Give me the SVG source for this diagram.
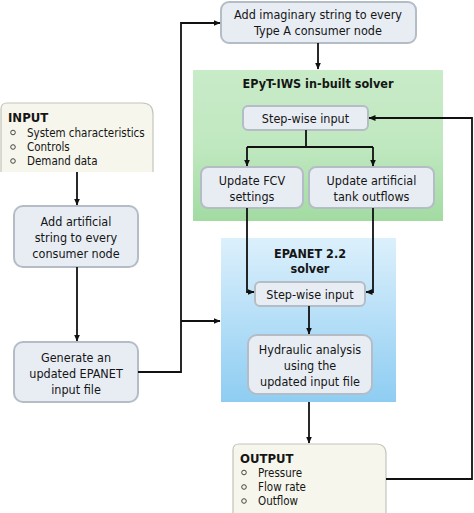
<svg xmlns="http://www.w3.org/2000/svg" width="474" height="513" viewBox="0 0 474 513">
<defs>
<marker id="ah" markerWidth="7" markerHeight="6" refX="6.5" refY="3" orient="auto" markerUnits="userSpaceOnUse">
<path d="M0,0 L7,3 L0,6 Z" fill="#111"/>
</marker>
<linearGradient id="gGreen" x1="0" y1="0" x2="0" y2="1">
<stop offset="0" stop-color="#c8ebc8"/>
<stop offset="0.5" stop-color="#c0e8c0"/>
<stop offset="1" stop-color="#a2dba2"/>
</linearGradient>
<linearGradient id="gBlue" x1="0" y1="0" x2="0" y2="1">
<stop offset="0" stop-color="#dcf0fc"/>
<stop offset="1" stop-color="#8ecdf2"/>
</linearGradient>
</defs>
<style>
text{font-family:"DejaVu Sans Condensed","DejaVu Sans",sans-serif;fill:#151515}
.t{font-size:12.5px;text-anchor:middle}
.b{font-size:11.5px}
.h{font-weight:bold;font-size:13px}
.hc{font-weight:bold;font-size:12.5px;text-anchor:middle}
.box{fill:#e8edf4;stroke:#b4bcc6;stroke-width:2}
.io{fill:#f6f6ec;stroke:#c4c4bc;stroke-width:1.2}
.dot{fill:none;stroke:#333;stroke-width:0.9}
.c{fill:none;stroke:#111;stroke-width:1.8}
</style>
<rect width="474" height="513" fill="#ffffff"/>

<g id="input">
<path class="io" d="M1,172 V109 Q1,103 7,103 H142 Q153,103 153,114 V172"/>
<text class="h" x="8" y="122">INPUT</text>
<circle class="dot" cx="13" cy="132.5" r="2.3"/><text class="b" x="27" y="137">System characteristics</text>
<circle class="dot" cx="13" cy="147" r="2.3"/><text class="b" x="27" y="151">Controls</text>
<circle class="dot" cx="13" cy="161" r="2.3"/><text class="b" x="27" y="165">Demand data</text>
</g>

<g id="add-artificial">
<rect class="box" x="14" y="206" width="124" height="61" rx="9"/>
<text class="t" x="76" y="226">Add artificial</text>
<text class="t" x="76" y="242">string to every</text>
<text class="t" x="76" y="258">consumer node</text>
</g>

<g id="generate">
<rect class="box" x="14" y="342" width="124" height="60" rx="9"/>
<text class="t" x="76" y="362">Generate an</text>
<text class="t" x="76" y="378">updated EPANET</text>
<text class="t" x="76" y="394">input file</text>
</g>

<g id="add-imaginary">
<rect class="box" x="221" y="2" width="195" height="41" rx="8"/>
<text class="t" x="318" y="19">Add imaginary string to every</text>
<text class="t" x="318" y="35">Type A consumer node</text>
</g>

<g id="epyt-solver">
<rect x="193" y="70" width="250" height="151" fill="url(#gGreen)"/>
<text class="hc" x="318" y="88">EPyT-IWS in-built solver</text>
</g>

<g id="stepwise-1">
<rect class="box" x="243" y="106" width="125" height="24" rx="5"/>
<text class="t" x="305.5" y="123">Step-wise input</text>
</g>

<g id="update-fcv">
<rect class="box" x="201" y="167" width="102" height="41" rx="7"/>
<text class="t" x="252" y="185">Update FCV</text>
<text class="t" x="252" y="201">settings</text>
</g>

<g id="update-tank">
<rect class="box" x="309" y="167" width="125" height="41" rx="7"/>
<text class="t" x="371.5" y="185">Update artificial</text>
<text class="t" x="371.5" y="201">tank outflows</text>
</g>

<g id="epanet-solver">
<rect x="221" y="238" width="175" height="164" fill="url(#gBlue)"/>
<text class="hc" x="310" y="258">EPANET 2.2</text>
<text class="hc" x="310" y="273">solver</text>
</g>

<g id="stepwise-2">
<rect class="box" x="255" y="282" width="110" height="24" rx="5"/>
<text class="t" x="310" y="299">Step-wise input</text>
</g>

<g id="hydraulic">
<rect class="box" x="248" y="335" width="124" height="59" rx="9"/>
<text class="t" x="310" y="354">Hydraulic analysis</text>
<text class="t" x="310" y="370">using the</text>
<text class="t" x="310" y="386">updated input file</text>
</g>

<g id="output">
<path class="io" d="M233,514 V450 Q233,444 239,444 H376 Q386,444 386,454 V514"/>
<text class="h" x="240" y="463">OUTPUT</text>
<circle class="dot" cx="244" cy="472.5" r="2.3"/><text class="b" x="258" y="477">Pressure</text>
<circle class="dot" cx="244" cy="487" r="2.3"/><text class="b" x="258" y="491">Flow rate</text>
<circle class="dot" cx="244" cy="501" r="2.3"/><text class="b" x="258" y="505">Outflow</text>
</g>

<g id="connectors">
<path class="c" d="M77,172 V205" marker-end="url(#ah)"/>
<path class="c" d="M77,267 V341" marker-end="url(#ah)"/>
<path class="c" d="M138,372 H181 V23 H220" marker-end="url(#ah)"/>
<path class="c" d="M181,321 H220" marker-end="url(#ah)"/>
<path class="c" d="M318,43 V69" marker-end="url(#ah)"/>
<path class="c" d="M306,130 V147 M247,147 H373"/>
<path class="c" d="M247,147 V166" marker-end="url(#ah)"/>
<path class="c" d="M373,147 V166" marker-end="url(#ah)"/>
<path class="c" d="M247,208 V292 H254" marker-end="url(#ah)"/>
<path class="c" d="M373,208 V292 H366" marker-end="url(#ah)"/>
<path class="c" d="M309,306 V334" marker-end="url(#ah)"/>
<path class="c" d="M309,402 V443" marker-end="url(#ah)"/>
<path class="c" d="M386,479 H472 V118 H369" marker-end="url(#ah)"/>
</g>
</svg>
